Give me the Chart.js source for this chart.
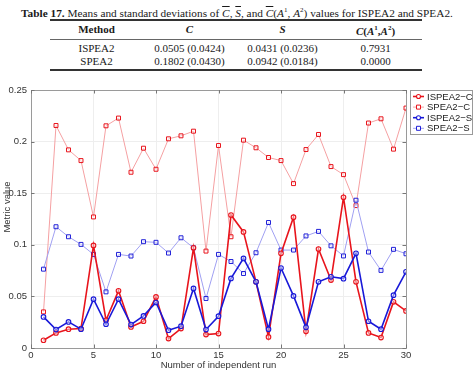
<!DOCTYPE html>
<html>
<head>
<meta charset="utf-8">
<script src="https://cdn.jsdelivr.net/npm/chart.js@4/dist/chart.umd.min.js"></script>
<style>
  html, body { margin:0; padding:0; background:#fff; }
  body { width:474px; height:382px; position:relative; overflow:hidden; font-family:"Liberation Serif", serif; color:#1a1a1a; }
  .cap { position:absolute; left:0; width:474px; top:3px; text-align:center; font-size:11.3px; line-height:14px; white-space:nowrap; }
  .ov { text-decoration:overline; text-decoration-thickness:0.5px; font-style:italic; }
  .rule { position:absolute; left:50px; width:372px; background:#333; }
  .cell { position:absolute; width:93px; text-align:center; font-size:11px; line-height:13px; white-space:nowrap; }
  #wrap { position:absolute; left:0; top:80px; width:474px; height:302px; }
</style>
</head>
<body>
<div class="cap"><b>Table 17.</b> Means and standard deviations of <span class="ov">C</span>, <span class="ov">S</span>, and <span class="ov">C</span>(<i>A</i><sup style="font-size:7px">1</sup>, <i>A</i><sup style="font-size:7px">2</sup>) values for ISPEA2 and SPEA2.</div>
<div class="rule" style="top:19px;height:1.5px"></div>
<div class="rule" style="top:38.5px;height:1px;background:#666"></div>
<div class="rule" style="top:69px;height:1.5px"></div>
<div id="tbl"></div>
<div id="wrap"><canvas id="c" width="474" height="302"></canvas></div>
<script>
// ---- table data ----
const tableHeaders = ['<b>Method</b>', '<b><i>C</i></b>', '<b><i>S</i></b>', '<b><i>C</i>(<i>A</i><sup style="font-size:7px">1</sup>,<i>A</i><sup style="font-size:7px">2</sup>)</b>'];
const tableMethods = ['ISPEA2', 'SPEA2'];
const tableC = ['0.0505 (0.0424)', '0.1802 (0.0430)'];
const tableS = ['0.0431 (0.0236)', '0.0942 (0.0184)'];
const tableCov = ['0.7931', '0.0000'];

// ---- chart data ----
const runs = [1,2,3,4,5,6,7,8,9,10,11,12,13,14,15,16,17,18,19,20,21,22,23,24,25,26,27,28,29,30];
const ispea2C = [0.0075,0.0146,0.0182,0.0188,0.0994,0.0269,0.0554,0.0204,0.0259,0.0495,0.0091,0.0188,0.0971,0.0130,0.0140,0.1289,0.1125,0.0641,0.0107,0.0917,0.1268,0.0162,0.0959,0.0658,0.1460,0.0641,0.0146,0.0101,0.0447,0.0359];
const spea2C = [0.0350,0.2156,0.1920,0.1816,0.1270,0.2153,0.2228,0.1703,0.1936,0.1732,0.2027,0.2056,0.2101,0.0939,0.1962,0.1078,0.2014,0.1940,0.1846,0.1816,0.1593,0.1923,0.2069,0.1758,0.1680,0.1380,0.2180,0.2221,0.1927,0.2325];
const ispea2S = [0.0301,0.0179,0.0253,0.0182,0.0473,0.0230,0.0473,0.0227,0.0311,0.0441,0.0172,0.0211,0.0577,0.0179,0.0308,0.0674,0.0868,0.0641,0.0182,0.0775,0.0505,0.0200,0.0641,0.0690,0.0672,0.0917,0.0259,0.0182,0.0512,0.0738];
const spea2S = [0.0764,0.1175,0.1078,0.1004,0.0907,0.0544,0.0907,0.0891,0.1030,0.1024,0.0920,0.1068,0.0971,0.0480,0.0907,0.0838,0.0722,0.0923,0.1216,0.0949,0.0949,0.1086,0.1130,0.0990,0.0892,0.1432,0.0930,0.0752,0.0956,0.0913];
const seriesNames = ['ISPEA2\u2212C', 'SPEA2\u2212C', 'ISPEA2\u2212S', 'SPEA2\u2212S'];
const xTicks = [0,5,10,15,20,25,30];
const yTicks = [0,0.05,0.1,0.15,0.2,0.25];
const yTickLabels = ['0','0.05','0.1','0.15','0.2','0.25'];
const xTitle = 'Number of independent run';
const yTitle = 'Metric value';

// build table
(function(){
  const tbl = document.getElementById('tbl');
  const lefts = [50,143,236,329];
  function cell(html, col, top){
    const d = document.createElement('div');
    d.className = 'cell'; d.style.left = lefts[col]+'px'; d.style.top = top+'px';
    d.innerHTML = html; tbl.appendChild(d);
  }
  tableHeaders.forEach((h,i)=>cell(h,i,22.5));
  const rowsTop = [41.5, 54.5];
  tableMethods.forEach((m,r)=>{
    cell(m,0,rowsTop[r]); cell(tableC[r],1,rowsTop[r]); cell(tableS[r],2,rowsTop[r]); cell(tableCov[r],3,rowsTop[r]);
  });
})();

const pts = arr => runs.map((x,i)=>({x:x, y:arr[i]}));

const styles = [
  {line:'#e8141c', lw:1.6, pt:'#e8141c', shape:'circle', r:2.3, pbw:1.1},
  {line:'#f5a0a2', lw:1.0, pt:'#e8141c', shape:'rect', r:2.8, pbw:1.0},
  {line:'#1818d8', lw:1.6, pt:'#1818d8', shape:'circle', r:2.3, pbw:1.1},
  {line:'#a0a0f2', lw:1.0, pt:'#2020d8', shape:'rect', r:2.8, pbw:1.0}
];
const seriesData = [ispea2C, spea2C, ispea2S, spea2S];

const datasets = seriesData.map((arr,i)=>({
  label: seriesNames[i],
  data: pts(arr),
  borderColor: styles[i].line,
  borderWidth: styles[i].lw,
  pointStyle: styles[i].shape,
  pointRadius: styles[i].r,
  pointBorderColor: styles[i].pt,
  pointBorderWidth: styles[i].pbw,
  pointBackgroundColor: 'rgba(255,255,255,0.45)',
  tension: 0,
  fill: false
}));
datasets[0].order = 1; datasets[1].order = 3; datasets[2].order = 0; datasets[3].order = 2;

const boxAndLegend = {
  id: 'boxAndLegend',
  afterDraw(chart){
    const ctx = chart.ctx, a = chart.chartArea, xs = chart.scales.x, ys = chart.scales.y;
    ctx.save();
    ctx.strokeStyle = '#9a9a9a'; ctx.lineWidth = 1;
    ctx.strokeRect(Math.round(a.left)+0.5, Math.round(a.top)+0.5, Math.round(a.right-a.left), Math.round(a.bottom-a.top));
    ctx.strokeStyle = '#777';
    ctx.beginPath();
    xTicks.forEach(v=>{
      const px = Math.round(xs.getPixelForValue(v))+0.5;
      ctx.moveTo(px, a.bottom); ctx.lineTo(px, a.bottom-3.5);
      ctx.moveTo(px, a.top); ctx.lineTo(px, a.top+3.5);
    });
    yTicks.forEach(v=>{
      const py = Math.round(ys.getPixelForValue(v))+0.5;
      ctx.moveTo(a.left, py); ctx.lineTo(a.left+3.5, py);
      ctx.moveTo(a.right, py); ctx.lineTo(a.right-3.5, py);
    });
    ctx.stroke();
    // y title drawn manually
    ctx.fillStyle = '#333';
    ctx.font = '9.5px "Liberation Sans", Arial, sans-serif';
    ctx.textAlign = 'center'; ctx.textBaseline = 'middle';
    ctx.translate(7, 127); ctx.rotate(-Math.PI/2);
    ctx.fillText(yTitle, 0, 0);
    ctx.setTransform(1,0,0,1,0,0);
    // legend
    const lx = 410, ly = 10, lw = 63, lh = 45;
    ctx.fillStyle = '#fff'; ctx.fillRect(lx, ly, lw, lh);
    ctx.strokeStyle = '#9a9a9a'; ctx.lineWidth = 1; ctx.strokeRect(lx+0.5, ly+0.5, lw-1, lh-1);
    ctx.font = '9.5px "Liberation Sans", Arial, sans-serif';
    ctx.textBaseline = 'middle'; ctx.textAlign = 'left';
    chart.data.datasets.forEach((ds,i)=>{
      const y = ly + 6.5 + i*10.6;
      ctx.strokeStyle = ds.borderColor; ctx.lineWidth = ds.borderWidth;
      ctx.beginPath(); ctx.moveTo(lx+3, y); ctx.lineTo(lx+14, y); ctx.stroke();
      ctx.strokeStyle = ds.pointBorderColor; ctx.lineWidth = ds.pointBorderWidth;
      ctx.fillStyle = '#fff';
      ctx.beginPath();
      if (ds.pointStyle === 'circle') { ctx.arc(lx+8.5, y, 2, 0, Math.PI*2); }
      else { ctx.rect(lx+6.5, y-2, 4, 4); }
      ctx.fill(); ctx.stroke();
      ctx.fillStyle = '#222';
      ctx.fillText(ds.label, lx+17, y+0.5);
    });
    ctx.restore();
  }
};

new Chart(document.getElementById('c'), {
  type: 'line',
  data: { datasets },
  options: {
    responsive: false,
    animation: false,
    layout: { padding: { top: 10, right: 68, left: 0, bottom: 0 } },
    plugins: { legend: { display: false }, tooltip: { enabled: false } },
    scales: {
      x: {
        type: 'linear', min: 0, max: 30,
        afterBuildTicks: s => { s.ticks = xTicks.map(v=>({value:v})); },
        afterFit: s => { s.height = 34; },
        ticks: { color:'#333', font:{ family:'"Liberation Sans", Arial, sans-serif', size:9.5 }, padding: 2, maxRotation:0 },
        grid: { color:'#eeeeee', drawTicks:false },
        border: { display:false },
        title: { display:true, text:xTitle, color:'#333', font:{ family:'"Liberation Sans", Arial, sans-serif', size:9.5 }, padding:{top:0,bottom:11} }
      },
      y: {
        type: 'linear', min: 0, max: 0.25,
        afterBuildTicks: s => { s.ticks = yTicks.map(v=>({value:v})); },
        afterFit: s => { s.width = 31; },
        ticks: { color:'#333', font:{ family:'"Liberation Sans", Arial, sans-serif', size:9.5 }, padding: 4,
                 callback: (v) => { const i = yTicks.findIndex(t=>Math.abs(t-v)<1e-9); return i>=0 ? yTickLabels[i] : ''; } },
        grid: { color:'#eeeeee', drawTicks:false },
        border: { display:false },
        title: { display:false }
      }
    }
  },
  plugins: [boxAndLegend]
});
</script>
</body>
</html>
